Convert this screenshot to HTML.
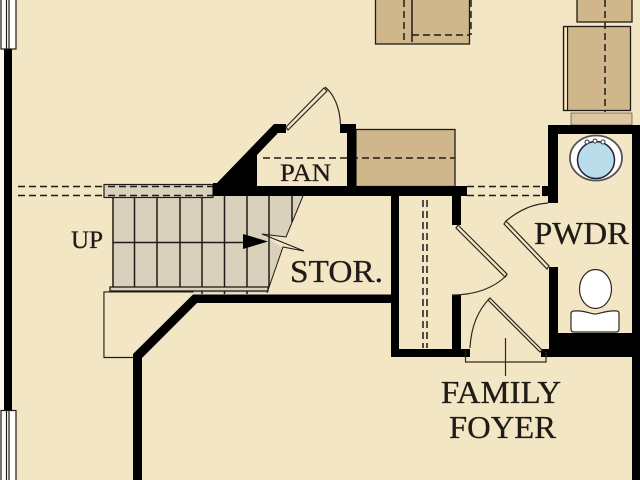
<!DOCTYPE html>
<html><head><meta charset="utf-8"><style>html,body{margin:0;padding:0;width:640px;height:480px;overflow:hidden;background:#f3e6c5}svg{display:block;filter:blur(.35px)}text{font-family:"Liberation Serif",serif;fill:#1f1b16;stroke:#1f1b16;stroke-width:.3px}</style></head><body>
<svg width="640" height="480" viewBox="0 0 640 480" xmlns="http://www.w3.org/2000/svg">
<rect width="640" height="480" fill="#f3e6c5"/>
<rect x="0" y="0" width="4" height="480" fill="#fbf8ef"/>
<rect x="632" y="357" width="8" height="123" fill="#000"/>
<!-- furniture -->
<g stroke="#1f1b16" stroke-width="1.300">
<rect x="375.500" y="-2" width="94" height="46" fill="#d0b78b"/>
<rect x="577" y="-2" width="55" height="24" fill="#d0b78b"/>
<rect x="563.500" y="26.500" width="67" height="84" fill="#d0b78b"/>
<line x1="567.500" y1="26" x2="567.500" y2="110"/>
<rect x="571" y="113" width="61" height="12" fill="#dcc7a0" stroke-width="0.500"/>
<rect x="356" y="129.500" width="99" height="57" fill="#d0b78b"/>
</g>
<rect x="564.500" y="27.500" width="2.500" height="82" fill="#f3e6c5"/>
<g fill="none" stroke="#1f1b16" stroke-width="1.500" stroke-dasharray="7 4">
<line x1="404" y1="0" x2="404" y2="43"/>
<line x1="471" y1="0" x2="471" y2="35"/>
<line x1="412" y1="35" x2="470" y2="35"/>
<line x1="605" y1="0" x2="605" y2="112"/>
<line x1="263" y1="158" x2="455" y2="158"/>
<line x1="18" y1="186.500" x2="213" y2="186.500"/>
<line x1="18" y1="195.500" x2="213" y2="195.500"/>
<line x1="467" y1="186.500" x2="545" y2="186.500"/>
<line x1="467" y1="195.500" x2="545" y2="195.500"/>
<line x1="423" y1="200" x2="423" y2="348"/>
<line x1="427" y1="200" x2="427" y2="348"/>
</g>
<line x1="412" y1="0" x2="412" y2="42" stroke="#1f1b16" stroke-width="1.500"/>
<!-- stairs -->
<polygon points="113,196 303,196 286,237 264,236 283,248 267,293 113,293" fill="#d9d1bc"/>
<g stroke="#1f1b16" stroke-width="1.500" fill="none">
<line x1="113" y1="196" x2="113" y2="287"/>
<line x1="134.500" y1="196" x2="134.500" y2="294"/>
<line x1="157" y1="196" x2="157" y2="294"/>
<line x1="180" y1="196" x2="180" y2="294"/>
<line x1="202" y1="196" x2="202" y2="294"/>
<line x1="224.500" y1="196" x2="224.500" y2="294"/>
<line x1="247" y1="196" x2="247" y2="294"/>
<line x1="269" y1="196" x2="269" y2="287"/>
<line x1="292" y1="196" x2="292" y2="222"/>
<line x1="113" y1="242.500" x2="250" y2="242.500"/>
<polyline points="303,196 286,237 262,234 304,251 283,247 267,293" stroke-width="1"/>
</g>
<rect x="110" y="287" width="158" height="4" fill="#d9d1bc" stroke="#1f1b16" stroke-width="1.300"/>
<path d="M193.500 292H104V357.500H134" fill="#f3e6c5" stroke="#1f1b16" stroke-width="1.200"/>
<polygon points="104.500,292.500 193,292.500 134,356 104.500,356.500" fill="#f3e6c5"/>
<rect x="104" y="184.500" width="109" height="13" fill="#d9d1bc" stroke="#1f1b16" stroke-width="1.200"/>
<g fill="none" stroke="#1f1b16" stroke-width="1.500" stroke-dasharray="7 4">
<line x1="108" y1="186.500" x2="213" y2="186.500"/>
<line x1="108" y1="195.500" x2="213" y2="195.500"/>
</g>
<polygon points="243,234 243,249 268,241.500" fill="#000"/>
<!-- walls -->
<g fill="#000">
<rect x="4" y="49" width="8" height="361"/>
<polygon points="274,124 286,124 286,133 278,133 257,155 257,186 347,186 347,133 340,133 340,124 356,124 356,186 467,186 467,196 213,196 213,183 217,183"/>
<polygon points="548,125 640,125 640,357 541,357 541,349 549,349 549,267 558,267 558,333 632,333 632,134 558,134 558,203 548,203 548,196 542,196 542,186 548,186"/>
<polygon points="391,196 399,196 399,349 452,349 452,295 461,295 461,349 470,349 470,357 391,357"/>
<rect x="452" y="196" width="9" height="29"/>
<polygon points="193,294.500 391,294.500 391,303 197,303 142,358 142,480 133,480 133,354"/>
</g>
<!-- windows -->
<g fill="#fff" stroke="#1f1b16" stroke-width="1.200">
<rect x="1" y="-2" width="15" height="51"/>
<rect x="1" y="410.500" width="15" height="72"/>
<line x1="6.500" y1="0" x2="6.500" y2="49"/>
<line x1="9" y1="0" x2="9" y2="49"/>
<line x1="6.500" y1="410" x2="6.500" y2="480"/>
<line x1="9" y1="410" x2="9" y2="480"/>
</g>
<!-- doors -->
<g fill="none" stroke="#2e281e" stroke-width="1.200">
<polygon points="286,127 324,88 327,91 288,130" fill="#f3e6c5"/>
<path d="M325 87C334 94 340 108 340.500 125"/>
<polygon points="458,225 507,274 505,277 456,228" fill="#f3e6c5"/>
<path d="M507 275C494 288 475 295 452 295"/>
<polygon points="506,221 549,266 547,269 504,224" fill="#f3e6c5"/>
<path d="M506 221C518 211 532 204 548 203"/>
<polygon points="490,298 542,350 540,352 488,300" fill="#f3e6c5"/>
<path d="M490 298C477 311 471 328 470 348"/>
<polyline points="465.500,350 465.500,362 546,362 546,352"/>
<line x1="505.500" y1="338" x2="505.500" y2="376"/>
</g>
<!-- sink -->
<ellipse cx="596" cy="158" rx="26" ry="22.500" fill="#fff" stroke="#555" stroke-width="1.800"/>
<circle cx="596" cy="160" r="18.500" fill="#b8dcea" stroke="#223" stroke-width="1.500"/>
<g fill="#fff" stroke="#333" stroke-width="1"><circle cx="587" cy="142" r="2"/><circle cx="595" cy="141" r="2"/><circle cx="603" cy="142" r="2"/></g>
<!-- toilet -->
<ellipse cx="595.500" cy="289" rx="16" ry="19.500" fill="#fff" stroke="#2e281e" stroke-width="1.200"/>
<path d="M574 311C585 310 590 314 595 314C600 314 606 310 617 311Q619 311 619 314V329Q619 332 616 332H574Q571 332 571 329V314Q571 311 574 311Z" fill="#fff" stroke="#2e281e" stroke-width="1.200"/>
<!-- labels -->
<text x="71" y="248" font-size="25" textLength="32" lengthAdjust="spacingAndGlyphs">UP</text>
<text x="280" y="181" font-size="25" textLength="51" lengthAdjust="spacingAndGlyphs">PAN</text>
<text x="290" y="282" font-size="32" textLength="93" lengthAdjust="spacingAndGlyphs">STOR.</text>
<text x="534" y="244" font-size="32" textLength="95" lengthAdjust="spacingAndGlyphs">PWDR</text>
<text x="441" y="403" font-size="32" textLength="120" lengthAdjust="spacingAndGlyphs">FAMILY</text>
<text x="449" y="438" font-size="32" textLength="107" lengthAdjust="spacingAndGlyphs">FOYER</text>
</svg>
</body></html>
